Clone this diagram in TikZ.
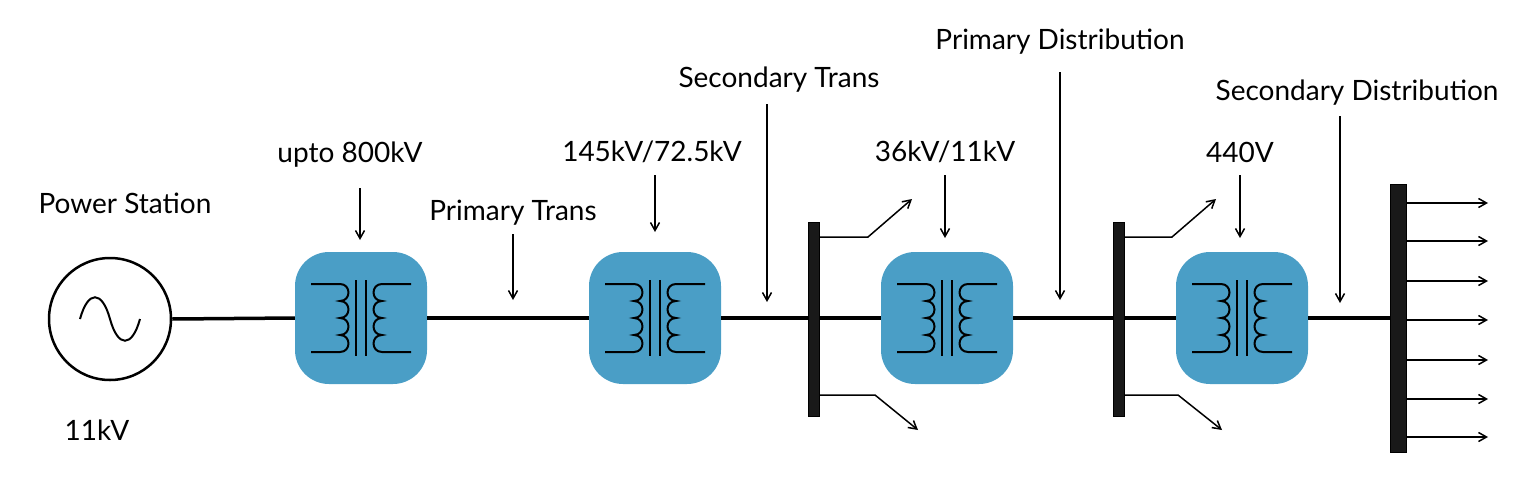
\documentclass[tikz,border=0pt]{standalone}
\usepackage{fontspec}
\setmainfont{Lato}
\usetikzlibrary{arrows.meta}
\definecolor{tb}{HTML}{4A9EC6}
\begin{document}
\begin{tikzpicture}[x=1pt,y=-1pt,
  lbl/.style={font=\fontsize{28}{32}\selectfont, inner sep=0pt},
  tr/.style={fill=tb, draw=none, rounded corners=34pt, minimum size=132pt, inner sep=0pt},
  bus/.style={fill=black!90, draw=black, inner sep=0pt},
  main/.style={line width=3.5pt},
  la/.style={line width=1.5pt,-{Straight Barb[length=8pt,width=9pt]}},
  wire/.style={line width=2pt}]
\useasboundingbox (0,0) rectangle (1536,482);
\tikzset{coil/.pic={
  \draw[wire] (-50,-34) -- (-21,-34)
    .. controls (-9.7,-34) and (-9.7,-17) .. (-21,-17)
    .. controls (-9.7,-17) and (-9.7,0) .. (-21,0)
    .. controls (-9.7,0) and (-9.7,17) .. (-21,17)
    .. controls (-9.7,17) and (-9.7,34) .. (-21,34) -- (-50,34);
  \draw[wire] (50,-34) -- (21,-34)
    .. controls (9.7,-34) and (9.7,-17) .. (21,-17)
    .. controls (9.7,-17) and (9.7,0) .. (21,0)
    .. controls (9.7,0) and (9.7,17) .. (21,17)
    .. controls (9.7,17) and (9.7,34) .. (21,34) -- (50,34);
  \draw[wire] (-5,-38) -- (-5,38);
  \draw[wire] (5,-38) -- (5,38);
}}
% source
\node[circle, draw, line width=2.5pt, minimum size=122pt, inner sep=0pt] (src) at (110,319) {};
\draw[line width=2pt] (80,319) .. controls (88,290) and (102,290) .. (110,319)
  .. controls (118,348) and (132,348) .. (140,319);
% transformers
\node[tr] (t1) at (361,318) {};
\node[tr] (t2) at (655,318) {};
\node[tr] (t3) at (947,318) {};
\node[tr] (t4) at (1242,318) {};
\foreach \t in {t1,t2,t3,t4} \pic at (\t) {coil};
% buses
\node[bus, minimum width=11pt, minimum height=194pt] (b1) at (814,319) {};
\node[bus, minimum width=11pt, minimum height=194pt] (b2) at (1119,319) {};
\node[bus, minimum width=16pt, minimum height=268pt] (b3) at (1398,318) {};
% main line
\draw[main] (src.east) -- (t1.west);
\draw[main] (t1.east) -- (t2.west);
\draw[main] (t2.east) -- (b1.west |- t2.east);
\draw[main] (b1.east |- t3.west) -- (t3.west);
\draw[main] (t3.east) -- (b2.west |- t3.east);
\draw[main] (b2.east |- t4.west) -- (t4.west);
\draw[main] (t4.east) -- (b3.west |- t4.east);
% bus stubs
\coordinate (u1) at (912,199); \coordinate (d1) at (918,430);
\coordinate (u2) at (1216,199); \coordinate (d2) at (1222,430);
\draw[la] (b1.east |- 0,237) -- (868,237) -- (u1);
\draw[la] (b1.east |- 0,395) -- (875,395) -- (d1);
\draw[la] (b2.east |- 0,237) -- (1172,237) -- (u2);
\draw[la] (b2.east |- 0,395) -- (1178,395) -- (d2);
\foreach \y/\n in {203/1,241/2,281/3,320/4,360/5,399/6,437/7}{
  \coordinate (o\n) at (1488,\y);
  \draw[la] (b3.east |- o\n) -- (o\n);
}
% labels
\node[lbl] (lps) at (125,203) {Power Station};
\node[lbl] (l11) at (97,430) {11kV};
\node[lbl] (l800) at (350,155) {upto 800kV};
\node[lbl] (lpt) at (513,213) {Primary Trans};
\node[lbl] (l145) at (652,152) {145kV/72.5kV};
\node[lbl] (lst) at (779,80) {Secondary Trans};
\node[lbl] (l36) at (945,152) {36kV/11kV};
\node[lbl] (lpd) at (1060,42) {Primary Distribution};
\node[lbl] (l440) at (1240,152) {440V};
\node[lbl] (lsd) at (1357,93) {Secondary Distribution};
% label arrows
\coordinate (a1) at (360,240); \coordinate (a2) at (513,300);
\coordinate (a3) at (655,232); \coordinate (a4) at (767,302);
\coordinate (a5) at (945,238); \coordinate (a6) at (1060,300);
\coordinate (a7) at (1240,238); \coordinate (a8) at (1340,303);
\draw[la] (360,188) -- (a1);
\draw[la] (513,234) -- (a2);
\draw[la] (655,175) -- (a3);
\draw[la] (767,104) -- (a4);
\draw[la] (945,175) -- (a5);
\draw[la] (1060,72) -- (a6);
\draw[la] (1240,175) -- (a7);
\draw[la] (1340,116) -- (a8);
\end{tikzpicture}
\end{document}
